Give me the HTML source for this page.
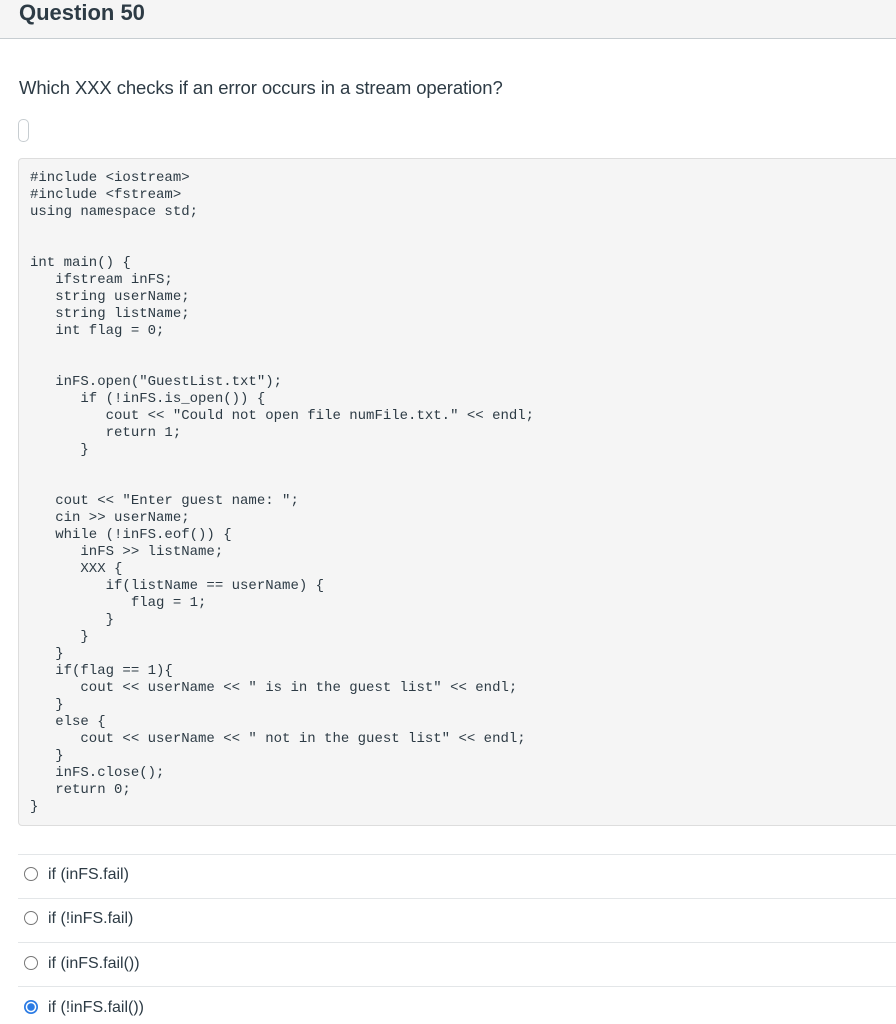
<!DOCTYPE html>
<html><head><style>
body{margin:0;width:896px;height:1024px;overflow:hidden;background:#fff;font-family:"Liberation Sans",sans-serif;color:#2d3b45;position:relative}
.hdr{position:absolute;left:0;top:0;width:896px;height:38px;background:#f5f5f5;border-bottom:1px solid #c7cdd1}
.hdr span{position:absolute;left:19px;top:0px;font-size:22px;font-weight:bold;color:#2d3b45}
.q{position:absolute;left:19px;top:77px;font-size:18.5px;color:#2d3b45;letter-spacing:-0.1px}
.inp{position:absolute;left:18px;top:119px;width:9px;height:21px;border:1px solid #c7cdd1;border-radius:5px}
.code{position:absolute;left:18px;top:158px;width:890px;height:666px;background:#f5f5f5;border:1px solid #ddd;border-radius:4px}
pre{position:absolute;left:30px;top:170px;margin:0;font-family:"Liberation Mono",monospace;font-size:14px;line-height:17px;color:#2d3b45}
.sep{position:absolute;left:18px;width:878px;height:1px;background:#e3e6e8}
.opt{position:absolute;left:24px;font-size:16px;color:#2d3b45}
.opt i{display:inline-block;width:14px;height:14px;border:1px solid #777;border-radius:50%;vertical-align:-2px;margin-right:10px;box-sizing:border-box}
.opt i.on{border:none;background:radial-gradient(circle,#2b7be4 0 3.5px,#fff 4px 5px,#2b7be4 5.5px)}
</style></head><body>
<div class="hdr"><span>Question 50</span></div>
<div class="q">Which XXX checks if an error occurs in a stream operation?</div>
<div class="inp"></div>
<div class="code"></div>
<pre>#include &lt;iostream&gt;
#include &lt;fstream&gt;
using namespace std;


int main() {
   ifstream inFS;
   string userName;
   string listName;
   int flag = 0;


   inFS.open("GuestList.txt");
      if (!inFS.is_open()) {
         cout &lt;&lt; "Could not open file numFile.txt." &lt;&lt; endl;
         return 1;
      }


   cout &lt;&lt; "Enter guest name: ";
   cin &gt;&gt; userName;
   while (!inFS.eof()) {
      inFS &gt;&gt; listName;
      XXX {
         if(listName == userName) {
            flag = 1;
         }
      }
   }
   if(flag == 1){
      cout &lt;&lt; userName &lt;&lt; " is in the guest list" &lt;&lt; endl;
   }
   else {
      cout &lt;&lt; userName &lt;&lt; " not in the guest list" &lt;&lt; endl;
   }
   inFS.close();
   return 0;
}</pre>
<div class="sep" style="top:854px"></div>
<div class="sep" style="top:898px"></div>
<div class="sep" style="top:942px"></div>
<div class="sep" style="top:986px"></div>
<div class="opt" style="top:866px"><i></i>if (inFS.fail)</div>
<div class="opt" style="top:910px"><i></i>if (!inFS.fail)</div>
<div class="opt" style="top:955px"><i></i>if (inFS.fail())</div>
<div class="opt" style="top:999px"><i class="on"></i>if (!inFS.fail())</div>
</body></html>
